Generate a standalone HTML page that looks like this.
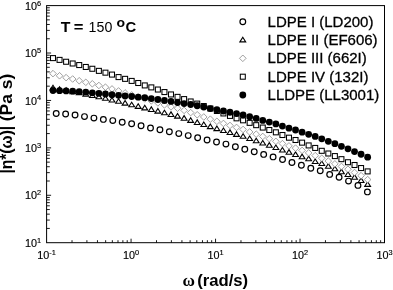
<!DOCTYPE html>
<html><head><meta charset="utf-8"><title>Complex viscosity plot</title>
<style>html,body{margin:0;padding:0;background:#fff}svg{display:block}</style></head>
<body>
<svg width="393" height="290" viewBox="0 0 393 290">
<rect width="393" height="290" fill="#fff"/>
<rect x="46.6" y="5.6" width="337.90" height="237.10" fill="none" stroke="#000" stroke-width="1"/>
<path d="M46.6 228.43h3.2M46.6 220.07h3.2M46.6 214.15h3.2M46.6 209.55h3.2M46.6 205.80h3.2M46.6 202.63h3.2M46.6 199.88h3.2M46.6 197.45h3.2M46.6 195.28h4.5M46.6 181.01h3.2M46.6 172.65h3.2M46.6 166.73h3.2M46.6 162.13h3.2M46.6 158.38h3.2M46.6 155.21h3.2M46.6 152.46h3.2M46.6 150.03h3.2M46.6 147.86h4.5M46.6 133.59h3.2M46.6 125.23h3.2M46.6 119.31h3.2M46.6 114.71h3.2M46.6 110.96h3.2M46.6 107.79h3.2M46.6 105.04h3.2M46.6 102.61h3.2M46.6 100.44h4.5M46.6 86.17h3.2M46.6 77.81h3.2M46.6 71.89h3.2M46.6 67.29h3.2M46.6 63.54h3.2M46.6 60.37h3.2M46.6 57.62h3.2M46.6 55.19h3.2M46.6 53.02h4.5M46.6 38.75h3.2M46.6 30.39h3.2M46.6 24.47h3.2M46.6 19.87h3.2M46.6 16.12h3.2M46.6 12.95h3.2M46.6 10.20h3.2M46.6 7.77h3.2M72.03 242.7v-2.5M86.90 242.7v-2.5M97.46 242.7v-2.5M105.65 242.7v-2.5M112.33 242.7v-2.5M117.99 242.7v-2.5M122.89 242.7v-2.5M127.21 242.7v-2.5M131.07 242.7v-4.0M156.50 242.7v-2.5M171.38 242.7v-2.5M181.93 242.7v-2.5M190.12 242.7v-2.5M196.81 242.7v-2.5M202.46 242.7v-2.5M207.36 242.7v-2.5M211.68 242.7v-2.5M215.55 242.7v-4.0M240.98 242.7v-2.5M255.85 242.7v-2.5M266.41 242.7v-2.5M274.60 242.7v-2.5M281.28 242.7v-2.5M286.94 242.7v-2.5M291.84 242.7v-2.5M296.16 242.7v-2.5M300.02 242.7v-4.0M325.45 242.7v-2.5M340.33 242.7v-2.5M350.88 242.7v-2.5M359.07 242.7v-2.5M365.76 242.7v-2.5M371.41 242.7v-2.5M376.31 242.7v-2.5M380.63 242.7v-2.5" stroke="#000" stroke-width="0.9" fill="none"/>
<g font-family="Liberation Sans, Arial, Helvetica, sans-serif" font-size="10.8" fill="#000" stroke="#000" stroke-width="0.15">
<text x="41.2" y="246.8" text-anchor="end">10<tspan font-size="7.4" dy="-4.1">1</tspan></text>
<text x="41.2" y="199.4" text-anchor="end">10<tspan font-size="7.4" dy="-4.1">2</tspan></text>
<text x="41.2" y="152.0" text-anchor="end">10<tspan font-size="7.4" dy="-4.1">3</tspan></text>
<text x="41.2" y="104.5" text-anchor="end">10<tspan font-size="7.4" dy="-4.1">4</tspan></text>
<text x="41.2" y="57.1" text-anchor="end">10<tspan font-size="7.4" dy="-4.1">5</tspan></text>
<text x="41.2" y="9.7" text-anchor="end">10<tspan font-size="7.4" dy="-4.1">6</tspan></text>
<text x="46.6" y="258.8" text-anchor="middle">10<tspan font-size="7.4" dy="-4.1">-1</tspan></text>
<text x="131.1" y="258.8" text-anchor="middle">10<tspan font-size="7.4" dy="-4.1">0</tspan></text>
<text x="215.5" y="258.8" text-anchor="middle">10<tspan font-size="7.4" dy="-4.1">1</tspan></text>
<text x="300.0" y="258.8" text-anchor="middle">10<tspan font-size="7.4" dy="-4.1">2</tspan></text>
<text x="384.5" y="258.8" text-anchor="middle">10<tspan font-size="7.4" dy="-4.1">3</tspan></text>
</g>
<g fill="#fff" stroke="#000" stroke-width="1.2">
<circle cx="56.20" cy="113.50" r="2.85"/>
<circle cx="65.63" cy="114.00" r="2.85"/>
<circle cx="75.06" cy="115.00" r="2.85"/>
<circle cx="84.49" cy="116.60" r="2.85"/>
<circle cx="93.92" cy="118.10" r="2.85"/>
<circle cx="103.35" cy="119.40" r="2.85"/>
<circle cx="112.78" cy="120.60" r="2.85"/>
<circle cx="122.21" cy="122.20" r="2.85"/>
<circle cx="131.64" cy="123.80" r="2.85"/>
<circle cx="141.07" cy="125.70" r="2.85"/>
<circle cx="150.50" cy="128.00" r="2.85"/>
<circle cx="159.93" cy="129.80" r="2.85"/>
<circle cx="169.36" cy="131.80" r="2.85"/>
<circle cx="178.79" cy="133.60" r="2.85"/>
<circle cx="188.22" cy="135.60" r="2.85"/>
<circle cx="197.65" cy="137.70" r="2.85"/>
<circle cx="207.08" cy="140.00" r="2.85"/>
<circle cx="216.51" cy="142.00" r="2.85"/>
<circle cx="225.94" cy="144.10" r="2.85"/>
<circle cx="235.37" cy="146.70" r="2.85"/>
<circle cx="244.80" cy="149.20" r="2.85"/>
<circle cx="254.23" cy="151.80" r="2.85"/>
<circle cx="263.66" cy="154.40" r="2.85"/>
<circle cx="273.09" cy="156.90" r="2.85"/>
<circle cx="282.52" cy="159.50" r="2.85"/>
<circle cx="291.95" cy="162.50" r="2.85"/>
<circle cx="301.38" cy="165.20" r="2.85"/>
<circle cx="310.81" cy="168.30" r="2.85"/>
<circle cx="320.24" cy="170.80" r="2.85"/>
<circle cx="329.67" cy="174.40" r="2.85"/>
<circle cx="339.10" cy="177.30" r="2.85"/>
<circle cx="348.53" cy="181.10" r="2.85"/>
<circle cx="357.96" cy="185.40" r="2.85"/>
<circle cx="367.39" cy="191.90" r="2.85"/>
</g>
<g fill="#fff" stroke="#000" stroke-width="1.1">
<path d="M50.10 89.90L53.00 85.30L55.90 89.90Z"/>
<path d="M56.66 91.31L59.55 86.71L62.45 91.31Z"/>
<path d="M63.21 92.50L66.11 87.90L69.01 92.50Z"/>
<path d="M69.76 93.71L72.66 89.11L75.56 93.71Z"/>
<path d="M76.32 94.81L79.22 90.21L82.12 94.81Z"/>
<path d="M82.88 96.18L85.78 91.58L88.68 96.18Z"/>
<path d="M89.43 97.57L92.33 92.97L95.23 97.57Z"/>
<path d="M95.98 98.75L98.88 94.15L101.78 98.75Z"/>
<path d="M102.54 100.32L105.44 95.72L108.34 100.32Z"/>
<path d="M109.09 102.04L112.00 97.44L114.90 102.04Z"/>
<path d="M115.65 103.29L118.55 98.69L121.45 103.29Z"/>
<path d="M122.20 105.14L125.10 100.54L128.00 105.14Z"/>
<path d="M128.76 106.79L131.66 102.19L134.56 106.79Z"/>
<path d="M135.31 108.35L138.22 103.75L141.12 108.35Z"/>
<path d="M141.87 109.85L144.77 105.25L147.67 109.85Z"/>
<path d="M148.42 111.50L151.32 106.90L154.22 111.50Z"/>
<path d="M154.98 113.16L157.88 108.56L160.78 113.16Z"/>
<path d="M161.53 114.82L164.44 110.22L167.34 114.82Z"/>
<path d="M168.09 116.48L170.99 111.88L173.89 116.48Z"/>
<path d="M174.64 118.14L177.54 113.54L180.44 118.14Z"/>
<path d="M181.20 120.23L184.10 115.63L187.00 120.23Z"/>
<path d="M187.75 122.34L190.66 117.74L193.56 122.34Z"/>
<path d="M194.31 124.45L197.21 119.85L200.11 124.45Z"/>
<path d="M200.86 126.56L203.76 121.96L206.66 126.56Z"/>
<path d="M207.42 128.66L210.32 124.06L213.22 128.66Z"/>
<path d="M213.97 130.59L216.88 125.99L219.78 130.59Z"/>
<path d="M220.53 132.51L223.43 127.91L226.33 132.51Z"/>
<path d="M227.08 134.44L229.98 129.84L232.88 134.44Z"/>
<path d="M233.64 136.36L236.54 131.76L239.44 136.36Z"/>
<path d="M240.19 138.30L243.09 133.70L246.00 138.30Z"/>
<path d="M246.75 140.55L249.65 135.95L252.55 140.55Z"/>
<path d="M253.30 142.77L256.20 138.17L259.10 142.77Z"/>
<path d="M259.86 145.05L262.76 140.45L265.66 145.05Z"/>
<path d="M266.42 147.21L269.31 142.61L272.21 147.21Z"/>
<path d="M272.97 149.53L275.87 144.93L278.77 149.53Z"/>
<path d="M279.52 152.01L282.42 147.41L285.32 152.01Z"/>
<path d="M286.08 154.24L288.98 149.64L291.88 154.24Z"/>
<path d="M292.63 156.47L295.53 151.87L298.43 156.47Z"/>
<path d="M299.19 158.70L302.09 154.10L304.99 158.70Z"/>
<path d="M305.75 160.78L308.64 156.18L311.54 160.78Z"/>
<path d="M312.30 163.53L315.20 158.93L318.10 163.53Z"/>
<path d="M318.86 165.52L321.75 160.92L324.65 165.52Z"/>
<path d="M325.41 168.20L328.31 163.60L331.21 168.20Z"/>
<path d="M331.97 170.78L334.87 166.18L337.76 170.78Z"/>
<path d="M338.52 173.75L341.42 169.15L344.32 173.75Z"/>
<path d="M345.07 176.43L347.97 171.83L350.87 176.43Z"/>
<path d="M351.63 179.21L354.53 174.61L357.43 179.21Z"/>
<path d="M358.19 182.45L361.08 177.85L363.98 182.45Z"/>
<path d="M364.74 186.40L367.64 181.80L370.54 186.40Z"/>
</g>
<g fill="#fff" stroke="#777" stroke-width="0.7">
<path d="M49.70 73.60L53.00 70.30L56.30 73.60L53.00 76.90Z"/>
<path d="M56.26 75.78L59.55 72.48L62.85 75.78L59.55 79.08Z"/>
<path d="M62.81 77.64L66.11 74.34L69.41 77.64L66.11 80.94Z"/>
<path d="M69.36 78.99L72.66 75.69L75.96 78.99L72.66 82.29Z"/>
<path d="M75.92 80.75L79.22 77.45L82.52 80.75L79.22 84.05Z"/>
<path d="M82.48 82.30L85.78 79.00L89.08 82.30L85.78 85.60Z"/>
<path d="M89.03 83.79L92.33 80.49L95.63 83.79L92.33 87.09Z"/>
<path d="M95.58 85.49L98.88 82.19L102.18 85.49L98.88 88.79Z"/>
<path d="M102.14 87.18L105.44 83.88L108.74 87.18L105.44 90.48Z"/>
<path d="M108.70 88.94L112.00 85.64L115.30 88.94L112.00 92.24Z"/>
<path d="M115.25 90.93L118.55 87.63L121.85 90.93L118.55 94.23Z"/>
<path d="M121.80 92.92L125.10 89.62L128.41 92.92L125.10 96.22Z"/>
<path d="M128.36 94.92L131.66 91.62L134.96 94.92L131.66 98.22Z"/>
<path d="M134.91 96.91L138.22 93.61L141.52 96.91L138.22 100.21Z"/>
<path d="M141.47 98.90L144.77 95.60L148.07 98.90L144.77 102.20Z"/>
<path d="M148.02 100.90L151.32 97.60L154.62 100.90L151.32 104.20Z"/>
<path d="M154.58 102.89L157.88 99.59L161.18 102.89L157.88 106.19Z"/>
<path d="M161.13 104.88L164.44 101.58L167.74 104.88L164.44 108.18Z"/>
<path d="M167.69 106.88L170.99 103.58L174.29 106.88L170.99 110.18Z"/>
<path d="M174.24 108.23L177.54 104.93L180.84 108.23L177.54 111.53Z"/>
<path d="M180.80 110.38L184.10 107.08L187.40 110.38L184.10 113.68Z"/>
<path d="M187.35 112.58L190.66 109.28L193.96 112.58L190.66 115.88Z"/>
<path d="M193.91 114.78L197.21 111.48L200.51 114.78L197.21 118.08Z"/>
<path d="M200.46 116.98L203.76 113.68L207.06 116.98L203.76 120.28Z"/>
<path d="M207.02 119.17L210.32 115.87L213.62 119.17L210.32 122.47Z"/>
<path d="M213.57 121.31L216.88 118.01L220.18 121.31L216.88 124.61Z"/>
<path d="M220.13 123.45L223.43 120.15L226.73 123.45L223.43 126.75Z"/>
<path d="M226.68 125.45L229.98 122.15L233.28 125.45L229.98 128.75Z"/>
<path d="M233.24 127.42L236.54 124.12L239.84 127.42L236.54 130.72Z"/>
<path d="M239.79 129.47L243.09 126.17L246.40 129.47L243.09 132.77Z"/>
<path d="M246.35 131.95L249.65 128.65L252.95 131.95L249.65 135.25Z"/>
<path d="M252.90 134.17L256.20 130.87L259.50 134.17L256.20 137.47Z"/>
<path d="M259.46 136.45L262.76 133.15L266.06 136.45L262.76 139.75Z"/>
<path d="M266.01 138.71L269.31 135.41L272.62 138.71L269.31 142.01Z"/>
<path d="M272.57 141.32L275.87 138.02L279.17 141.32L275.87 144.62Z"/>
<path d="M279.12 143.61L282.42 140.31L285.72 143.61L282.42 146.91Z"/>
<path d="M285.68 145.89L288.98 142.59L292.28 145.89L288.98 149.19Z"/>
<path d="M292.23 148.11L295.53 144.81L298.83 148.11L295.53 151.41Z"/>
<path d="M298.79 150.40L302.09 147.10L305.39 150.40L302.09 153.70Z"/>
<path d="M305.34 152.88L308.64 149.58L311.94 152.88L308.64 156.18Z"/>
<path d="M311.90 155.64L315.20 152.34L318.50 155.64L315.20 158.94Z"/>
<path d="M318.45 158.26L321.75 154.96L325.06 158.26L321.75 161.56Z"/>
<path d="M325.01 161.07L328.31 157.77L331.61 161.07L328.31 164.37Z"/>
<path d="M331.56 163.86L334.87 160.56L338.17 163.86L334.87 167.16Z"/>
<path d="M338.12 166.45L341.42 163.15L344.72 166.45L341.42 169.75Z"/>
<path d="M344.67 169.24L347.97 165.94L351.27 169.24L347.97 172.54Z"/>
<path d="M351.23 172.50L354.53 169.20L357.83 172.50L354.53 175.80Z"/>
<path d="M357.78 175.65L361.08 172.35L364.38 175.65L361.08 178.95Z"/>
<path d="M364.34 179.59L367.64 176.29L370.94 179.59L367.64 182.89Z"/>
</g>
<g fill="#fff" stroke="#000" stroke-width="1.05">
<rect x="50.50" y="55.60" width="5.0" height="5.0"/>
<rect x="57.05" y="57.39" width="5.0" height="5.0"/>
<rect x="63.61" y="59.26" width="5.0" height="5.0"/>
<rect x="70.16" y="60.99" width="5.0" height="5.0"/>
<rect x="76.72" y="62.56" width="5.0" height="5.0"/>
<rect x="83.28" y="64.47" width="5.0" height="5.0"/>
<rect x="89.83" y="66.27" width="5.0" height="5.0"/>
<rect x="96.38" y="68.37" width="5.0" height="5.0"/>
<rect x="102.94" y="70.17" width="5.0" height="5.0"/>
<rect x="109.50" y="72.09" width="5.0" height="5.0"/>
<rect x="116.05" y="74.58" width="5.0" height="5.0"/>
<rect x="122.60" y="76.35" width="5.0" height="5.0"/>
<rect x="129.16" y="78.42" width="5.0" height="5.0"/>
<rect x="135.72" y="80.51" width="5.0" height="5.0"/>
<rect x="142.27" y="82.92" width="5.0" height="5.0"/>
<rect x="148.82" y="84.89" width="5.0" height="5.0"/>
<rect x="155.38" y="87.03" width="5.0" height="5.0"/>
<rect x="161.94" y="89.56" width="5.0" height="5.0"/>
<rect x="168.49" y="91.95" width="5.0" height="5.0"/>
<rect x="175.04" y="94.37" width="5.0" height="5.0"/>
<rect x="181.60" y="96.60" width="5.0" height="5.0"/>
<rect x="188.16" y="98.97" width="5.0" height="5.0"/>
<rect x="194.71" y="101.11" width="5.0" height="5.0"/>
<rect x="201.26" y="103.55" width="5.0" height="5.0"/>
<rect x="207.82" y="106.02" width="5.0" height="5.0"/>
<rect x="214.38" y="108.48" width="5.0" height="5.0"/>
<rect x="220.93" y="110.94" width="5.0" height="5.0"/>
<rect x="227.48" y="113.40" width="5.0" height="5.0"/>
<rect x="234.04" y="115.83" width="5.0" height="5.0"/>
<rect x="240.59" y="117.81" width="5.0" height="5.0"/>
<rect x="247.15" y="120.35" width="5.0" height="5.0"/>
<rect x="253.70" y="122.67" width="5.0" height="5.0"/>
<rect x="260.26" y="125.06" width="5.0" height="5.0"/>
<rect x="266.81" y="127.51" width="5.0" height="5.0"/>
<rect x="273.37" y="129.83" width="5.0" height="5.0"/>
<rect x="279.92" y="132.51" width="5.0" height="5.0"/>
<rect x="286.48" y="135.19" width="5.0" height="5.0"/>
<rect x="293.03" y="137.51" width="5.0" height="5.0"/>
<rect x="299.59" y="140.15" width="5.0" height="5.0"/>
<rect x="306.14" y="142.93" width="5.0" height="5.0"/>
<rect x="312.70" y="145.44" width="5.0" height="5.0"/>
<rect x="319.25" y="148.32" width="5.0" height="5.0"/>
<rect x="325.81" y="151.00" width="5.0" height="5.0"/>
<rect x="332.37" y="153.58" width="5.0" height="5.0"/>
<rect x="338.92" y="156.66" width="5.0" height="5.0"/>
<rect x="345.47" y="159.73" width="5.0" height="5.0"/>
<rect x="352.03" y="162.51" width="5.0" height="5.0"/>
<rect x="358.58" y="165.55" width="5.0" height="5.0"/>
<rect x="365.14" y="168.90" width="5.0" height="5.0"/>
</g>
<g fill="#000" stroke="none">
<circle cx="53.00" cy="90.50" r="3.4"/>
<circle cx="59.55" cy="90.70" r="3.4"/>
<circle cx="66.11" cy="90.90" r="3.4"/>
<circle cx="72.66" cy="91.20" r="3.4"/>
<circle cx="79.22" cy="91.70" r="3.4"/>
<circle cx="85.78" cy="92.21" r="3.4"/>
<circle cx="92.33" cy="92.80" r="3.4"/>
<circle cx="98.88" cy="93.39" r="3.4"/>
<circle cx="105.44" cy="93.99" r="3.4"/>
<circle cx="112.00" cy="94.67" r="3.4"/>
<circle cx="118.55" cy="95.37" r="3.4"/>
<circle cx="125.10" cy="95.99" r="3.4"/>
<circle cx="131.66" cy="96.48" r="3.4"/>
<circle cx="138.22" cy="97.20" r="3.4"/>
<circle cx="144.77" cy="97.68" r="3.4"/>
<circle cx="151.32" cy="98.56" r="3.4"/>
<circle cx="157.88" cy="99.48" r="3.4"/>
<circle cx="164.44" cy="100.49" r="3.4"/>
<circle cx="170.99" cy="101.47" r="3.4"/>
<circle cx="177.54" cy="102.54" r="3.4"/>
<circle cx="184.10" cy="103.58" r="3.4"/>
<circle cx="190.66" cy="104.49" r="3.4"/>
<circle cx="197.21" cy="105.76" r="3.4"/>
<circle cx="203.76" cy="107.06" r="3.4"/>
<circle cx="210.32" cy="108.54" r="3.4"/>
<circle cx="216.88" cy="109.73" r="3.4"/>
<circle cx="223.43" cy="110.98" r="3.4"/>
<circle cx="229.98" cy="112.24" r="3.4"/>
<circle cx="236.54" cy="113.60" r="3.4"/>
<circle cx="243.09" cy="114.98" r="3.4"/>
<circle cx="249.65" cy="116.74" r="3.4"/>
<circle cx="256.20" cy="118.47" r="3.4"/>
<circle cx="262.76" cy="120.44" r="3.4"/>
<circle cx="269.31" cy="122.10" r="3.4"/>
<circle cx="275.87" cy="123.92" r="3.4"/>
<circle cx="282.42" cy="126.11" r="3.4"/>
<circle cx="288.98" cy="128.19" r="3.4"/>
<circle cx="295.53" cy="130.01" r="3.4"/>
<circle cx="302.09" cy="132.20" r="3.4"/>
<circle cx="308.64" cy="134.35" r="3.4"/>
<circle cx="315.20" cy="136.44" r="3.4"/>
<circle cx="321.75" cy="138.82" r="3.4"/>
<circle cx="328.31" cy="141.30" r="3.4"/>
<circle cx="334.87" cy="143.67" r="3.4"/>
<circle cx="341.42" cy="146.35" r="3.4"/>
<circle cx="347.97" cy="148.83" r="3.4"/>
<circle cx="354.53" cy="151.59" r="3.4"/>
<circle cx="361.08" cy="154.24" r="3.4"/>
<circle cx="367.64" cy="157.20" r="3.4"/>
</g>
<g fill="#fff" stroke="#000" stroke-width="1.2"><circle cx="242.80" cy="21.70" r="2.85"/></g>
<g fill="#fff" stroke="#000" stroke-width="1.1"><path d="M239.90 41.90L242.80 37.30L245.70 41.90Z"/></g>
<g fill="#fff" stroke="#777" stroke-width="0.7"><path d="M239.50 58.30L242.80 55.00L246.10 58.30L242.80 61.60Z"/></g>
<g fill="#fff" stroke="#000" stroke-width="1.05"><rect x="240.30" y="74.20" width="5.0" height="5.0"/></g>
<g fill="#000"><circle cx="242.80" cy="95.00" r="3.4"/></g>
<g font-family="Liberation Sans, Arial, Helvetica, sans-serif" font-size="15.55" fill="#000" stroke="#000" stroke-width="0.3">
<text transform="translate(267.6 26.8) scale(0.965 1)">LDPE I (LD200)</text>
<text transform="translate(267.6 44.5) scale(0.965 1)">LDPE II (EF606)</text>
<text transform="translate(267.6 63.1) scale(0.965 1)">LDPE III (662I)</text>
<text transform="translate(267.6 81.5) scale(0.965 1)">LDPE IV (132I)</text>
<text transform="translate(267.6 99.9) scale(0.965 1)">LLDPE (LL3001)</text>
</g>
<g font-family="Liberation Sans, Arial, Helvetica, sans-serif" font-size="14.8" fill="#000"><text font-weight="bold" transform="translate(60.8 31.5) scale(1.07 1)">T</text><text font-weight="bold" transform="translate(73.7 31.5) scale(1.12 1)">=</text><text transform="translate(88.6 31.5) scale(0.96 1)">150</text><text font-weight="bold" font-size="13" transform="translate(116.6 27.1) scale(1.08 1)">o</text><text font-weight="bold" x="125.6" y="31.5">C</text></g>
<g font-family="Liberation Sans, Arial, Helvetica, sans-serif" font-weight="bold" font-size="16.1" fill="#000"><text transform="translate(12.2 173.6) rotate(-90) scale(0.968 1)">|η*(ω)|</text><text transform="translate(12.2 121.3) rotate(-90) scale(1.088 1)">(Pa s)</text></g>
<g font-family="Liberation Sans, Arial, Helvetica, sans-serif" font-weight="bold" font-size="15.6" fill="#000"><text font-family="Liberation Serif, serif" font-size="17" x="182.6" y="285.9">ω</text><text transform="translate(197.2 285.9) scale(1.07 1)">(rad/s)</text></g>
</svg>
</body></html>
